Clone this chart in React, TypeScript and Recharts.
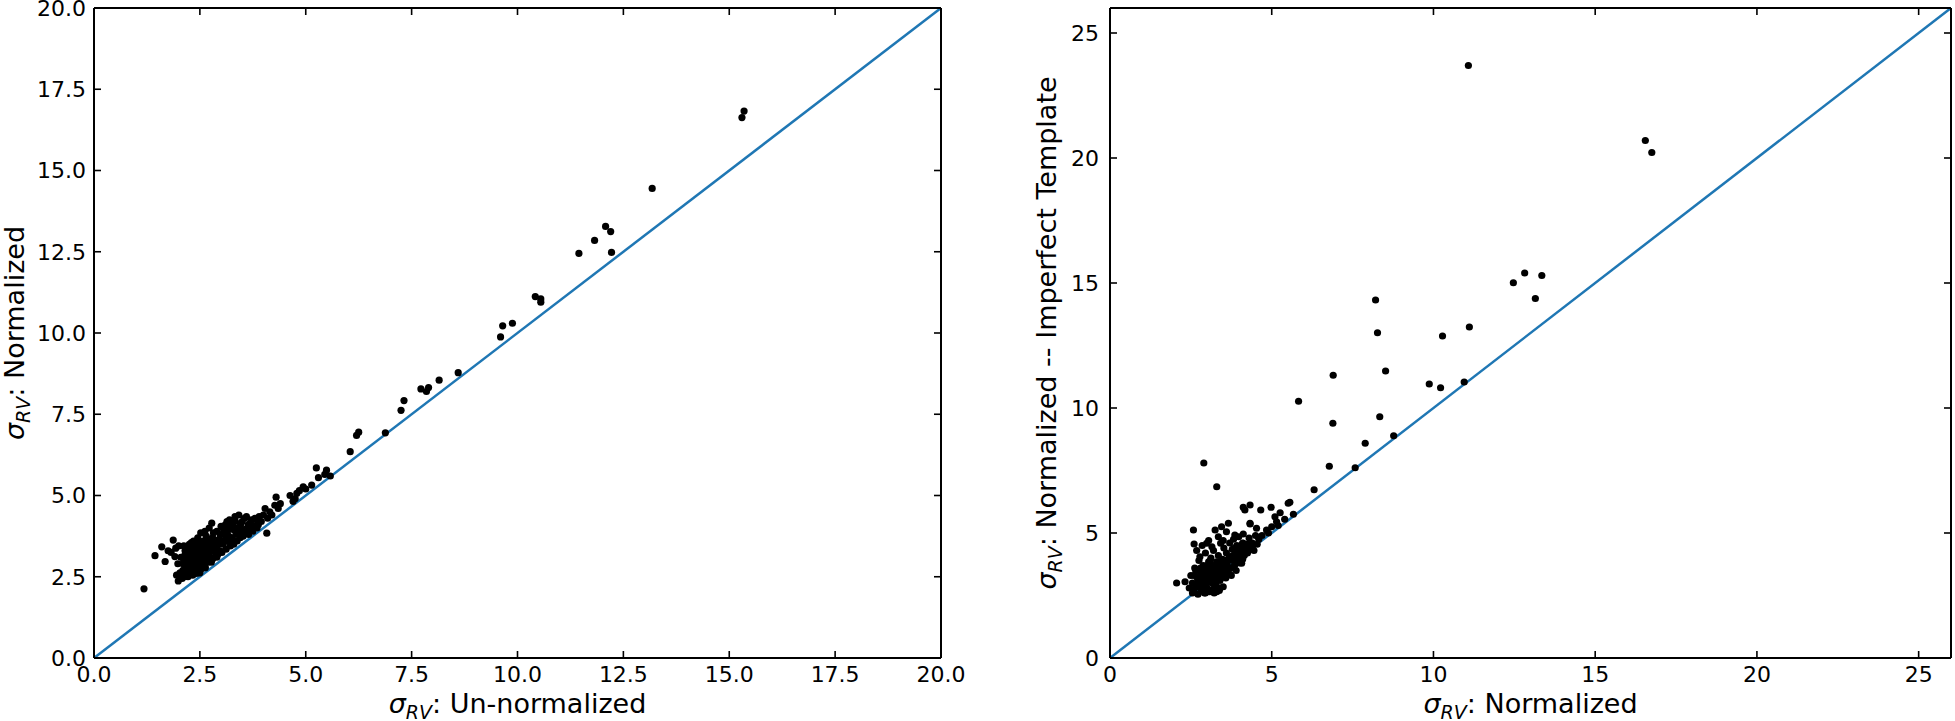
import React from 'react'
import { ScatterChart, Scatter, XAxis, YAxis, ReferenceLine, Label } from 'recharts'

// left panel: sigma_RV un-normalized (x) vs normalized (y)
const leftCluster: [number, number][] = [
  [1.18, 2.13], [1.44, 3.15], [1.6, 3.42], [1.68, 2.97], [1.75, 3.3], [1.87, 3.63], [1.91, 3.12],
  [1.95, 2.55], [1.99, 2.37], [2.0, 3.45], [1.82, 3.25], [2.03, 2.62], [1.93, 3.38],
  [2.08, 2.45], [2.1, 2.7], [2.12, 3.0], [2.15, 3.3], [2.18, 2.55], [2.2, 2.85], [2.22, 3.15],
  [2.25, 3.5], [2.27, 2.6], [2.3, 2.75], [2.3, 3.05], [2.32, 3.35], [2.35, 2.65], [2.37, 2.9],
  [2.4, 3.2], [2.42, 3.6], [2.44, 2.7], [2.45, 3.0], [2.47, 3.4], [2.5, 2.8], [2.5, 3.1],
  [2.52, 3.85], [2.55, 2.9], [2.55, 3.3], [2.58, 3.6], [2.6, 2.85], [2.6, 3.15], [2.62, 3.45],
  [2.65, 3.0], [2.65, 3.75], [2.68, 3.25], [2.7, 2.95], [2.7, 3.55], [2.72, 4.0], [2.75, 3.1],
  [2.75, 3.4], [2.78, 4.15], [2.8, 3.05], [2.8, 3.7], [2.82, 3.3], [2.85, 3.55], [2.87, 3.15],
  [2.9, 3.9], [2.9, 3.4], [2.93, 3.2], [2.95, 3.65], [2.98, 3.3], [3.0, 4.05],
  [2.15, 2.5], [2.2, 2.65], [2.25, 2.75], [2.28, 2.95], [2.33, 2.55], [2.38, 2.8], [2.4, 3.0],
  [2.46, 2.85], [2.5, 2.62], [2.52, 3.2], [2.56, 3.05], [2.6, 3.35], [2.63, 2.78], [2.67, 3.1],
  [2.73, 3.3], [2.77, 2.95], [2.35, 3.1], [2.2, 3.05], [2.28, 3.25], [2.42, 3.45], [2.58, 3.5],
  [2.1, 2.9], [2.14, 3.15], [2.18, 3.4], [2.22, 2.5], [2.26, 3.0], [2.3, 3.55], [2.34, 2.85],
  [2.38, 3.3], [2.42, 2.6], [2.46, 3.2], [2.5, 3.5], [2.54, 2.75], [2.58, 3.25], [2.62, 2.95],
  [2.66, 3.55], [2.7, 3.2], [2.74, 3.65], [2.78, 3.5], [2.82, 3.85], [2.86, 3.35], [2.9, 3.1],
  [2.94, 3.5], [2.98, 3.8], [2.05, 3.1], [1.98, 2.9], [2.12, 3.45], [2.45, 3.7], [2.35, 3.6],
  [2.62, 3.9],
  [3.02, 3.25], [3.05, 3.5], [3.08, 3.8], [3.1, 4.1], [3.12, 3.35], [3.15, 3.6], [3.18, 3.95],
  [3.2, 4.25], [3.22, 3.45], [3.25, 3.7], [3.28, 4.05], [3.3, 3.5], [3.33, 4.35], [3.35, 3.8],
  [3.38, 3.6], [3.4, 4.0], [3.42, 4.4], [3.45, 3.7], [3.48, 3.9], [3.5, 4.2], [3.52, 3.75],
  [3.55, 4.3], [3.58, 3.85], [3.6, 4.35], [3.62, 4.0], [3.65, 3.8], [3.68, 4.15], [3.7, 3.95],
  [3.72, 4.25], [3.75, 3.9], [3.78, 4.05], [3.8, 4.3], [3.84, 4.25], [3.85, 4.0], [3.88, 4.1],
  [3.9, 4.35], [3.95, 4.2], [4.0, 4.4], [4.04, 4.6], [4.08, 3.84], [4.1, 4.3], [4.15, 4.5],
  [4.2, 4.4], [4.27, 4.7], [4.3, 4.95], [4.35, 4.6], [4.4, 4.75],
  [3.02, 3.55], [3.06, 3.95], [3.1, 3.65], [3.14, 4.2], [3.18, 3.75], [3.22, 4.1], [3.26, 3.55],
  [3.3, 3.95], [3.34, 4.2], [3.38, 3.85], [3.46, 4.1], [3.54, 3.95], [3.64, 4.1],
  [4.63, 5.0], [4.7, 4.82], [4.75, 4.9], [4.79, 5.07], [4.85, 5.15], [4.94, 5.27], [5.0, 5.2],
  [5.14, 5.32], [5.25, 5.85], [5.3, 5.55], [5.45, 5.65], [5.49, 5.78], [5.58, 5.6],
]

const leftOutliers: [number, number][] = [
  [6.05, 6.35], [6.2, 6.85], [6.25, 6.95], [6.88, 6.93], [7.25, 7.62], [7.32, 7.92],
  [7.72, 8.28], [7.85, 8.2], [7.9, 8.32], [8.15, 8.55], [8.6, 8.78], [9.6, 9.88], [9.65, 10.22],
  [9.88, 10.3], [10.42, 11.12], [10.55, 11.05], [10.55, 10.95], [11.45, 12.45], [11.82, 12.85],
  [12.08, 13.28], [12.2, 13.12], [12.22, 12.48], [13.18, 14.45], [15.3, 16.63], [15.35, 16.83],
]

// right panel: normalized (x) vs normalized with imperfect template (y)
const rightCluster: [number, number][] = [
  [2.06, 3.0], [2.32, 3.05], [2.45, 2.8], [2.5, 3.3], [2.55, 2.6], [2.58, 5.12], [2.6, 4.56],
  [2.62, 3.6], [2.65, 2.9], [2.7, 3.2], [2.72, 2.55], [2.75, 3.9], [2.78, 4.05], [2.8, 3.4],
  [2.82, 2.75], [2.85, 3.0], [2.88, 3.7], [2.9, 3.3], [2.92, 2.6], [2.95, 4.2], [2.98, 3.5],
  [2.99, 4.59], [3.0, 2.8], [3.02, 3.1], [3.05, 3.85], [3.08, 2.65], [3.1, 3.4], [3.12, 4.0],
  [3.15, 3.0], [3.15, 3.65], [3.18, 2.75], [3.2, 4.3], [3.22, 3.25], [3.25, 5.12], [3.25, 3.5],
  [3.28, 2.9], [3.3, 3.85], [3.32, 3.15], [3.35, 4.1], [3.38, 2.7], [3.4, 3.6], [3.42, 4.59],
  [3.45, 5.25], [3.45, 3.3], [3.48, 3.95], [3.5, 2.85], [3.52, 4.4], [3.55, 3.5], [3.58, 3.2],
  [3.6, 4.2], [3.62, 3.75], [3.65, 3.4], [3.66, 5.39], [3.68, 4.0], [3.7, 4.6], [3.72, 3.6],
  [3.75, 3.3], [3.78, 4.35], [3.8, 3.9], [3.82, 4.75], [3.85, 3.7], [3.86, 4.92], [3.88, 4.2],
  [3.9, 3.5], [3.92, 4.5], [3.95, 4.0], [3.98, 4.85], [4.0, 3.8], [4.05, 4.3], [4.07, 3.79],
  [4.1, 4.6], [4.12, 4.59], [4.12, 4.96], [4.15, 4.1], [4.2, 4.45], [4.25, 4.2], [4.3, 4.8],
  [4.33, 5.39], [4.33, 5.36], [4.35, 4.4], [4.4, 4.6], [4.45, 4.3], [4.5, 4.9], [4.53, 5.19],
  [4.55, 4.55], [4.6, 4.75], [4.7, 4.9], [4.84, 5.12], [4.9, 5.0], [5.0, 5.25], [5.1, 5.65],
  [5.15, 5.45], [5.2, 5.3], [5.26, 5.81], [5.4, 5.55], [5.67, 5.75],
  [2.7, 2.85], [2.85, 3.15], [2.95, 2.95], [3.05, 3.3], [3.12, 3.55], [3.2, 3.1], [3.28, 3.45],
  [3.35, 3.3], [3.42, 3.7], [3.5, 3.6], [3.58, 3.9], [3.65, 3.55], [3.72, 3.95], [3.8, 4.1],
  [2.9, 3.55], [3.0, 3.7], [3.1, 3.9], [2.8, 3.6], [3.3, 2.65], [3.4, 2.8],
  [2.55, 3.0], [2.6, 3.3], [2.65, 3.5], [2.7, 3.0], [2.75, 3.25], [2.8, 2.9], [2.85, 3.45],
  [2.9, 2.75], [2.95, 3.2], [3.0, 3.4], [3.05, 3.05], [3.1, 3.2], [3.15, 3.45], [3.2, 3.7],
  [3.25, 3.0], [3.3, 3.3], [3.35, 3.6], [3.4, 3.1], [3.45, 3.5], [3.5, 3.85], [3.55, 3.25],
  [3.6, 3.55], [3.65, 3.9], [3.7, 3.35], [3.75, 4.05], [3.8, 3.6], [3.85, 4.4], [3.9, 3.8],
  [3.95, 4.3], [4.0, 4.1], [4.05, 4.5], [4.1, 3.95], [4.2, 4.2], [4.25, 4.55], [4.3, 4.35],
  [4.4, 4.45], [2.68, 4.3], [2.85, 4.5], [3.05, 4.7], [3.15, 4.45], [3.35, 4.85], [3.5, 4.7],
  [3.6, 5.05], [2.6, 2.75], [2.95, 2.6], [3.22, 2.6],
]

const rightOutliers: [number, number][] = [
  [2.9, 7.8], [3.3, 6.85], [4.12, 6.03], [4.17, 5.92], [4.33, 6.12], [4.66, 5.92], [4.98, 6.03],
  [5.51, 6.19], [5.56, 6.23], [5.83, 10.27], [6.31, 6.73], [6.78, 7.67], [6.89, 9.39],
  [6.9, 11.31], [7.58, 7.61], [7.89, 8.59], [8.21, 14.32], [8.27, 13.01], [8.34, 9.65],
  [8.52, 11.48], [8.77, 8.89], [9.87, 10.96], [10.22, 10.81], [10.28, 12.88], [10.95, 11.04],
  [11.08, 23.7], [11.11, 13.24], [12.47, 15.01], [12.82, 15.4], [13.15, 14.38], [13.35, 15.3],
  [16.55, 20.7], [16.75, 20.22],
]

const leftTicks = [0, 2.5, 5, 7.5, 10, 12.5, 15, 17.5, 20]
const rightTicks = [0, 5, 10, 15, 20, 25]

const FONT = 'DejaVu Sans, sans-serif'
const TICK_LEN = 7
const BLUE = '#1f77b4'
const TICK_FONT = 22
const LABEL_FONT = 27

const toPoints = (pairs: [number, number][]) => pairs.map(([x, y]) => ({ x, y }))

function makeTick(side: string, fmt?: (v: number) => string, pad = 8) {
  return (props: any) => {
    const { x, y, payload } = props
    const v = payload.value
    if (side === 'bottom') {
      return (
        <g>
          <line x1={x} y1={y} x2={x} y2={y - TICK_LEN} stroke="#000" strokeWidth={1.6} />
          {fmt && (
            <text x={x} y={y + 24} textAnchor="middle" fontSize={TICK_FONT} fontFamily={FONT} fill="#000">
              {fmt(v)}
            </text>
          )}
        </g>
      )
    }
    if (side === 'top') {
      return <line x1={x} y1={y} x2={x} y2={y + TICK_LEN} stroke="#000" strokeWidth={1.6} />
    }
    if (side === 'left') {
      return (
        <g>
          <line x1={x} y1={y} x2={x + TICK_LEN} y2={y} stroke="#000" strokeWidth={1.6} />
          {fmt && (
            <text x={x - pad} y={y} dy="0.36em" textAnchor="end" fontSize={TICK_FONT} fontFamily={FONT} fill="#000">
              {fmt(v)}
            </text>
          )}
        </g>
      )
    }
    return <line x1={x} y1={y} x2={x - TICK_LEN} y2={y} stroke="#000" strokeWidth={1.6} />
  }
}

function Sigma({ rest }: { rest: string }) {
  return (
    <>
      <tspan fontStyle="italic">σ</tspan>
      <tspan fontStyle="italic" fontSize={19} dy={6}>RV</tspan>
      <tspan dy={-6}>{rest}</tspan>
    </>
  )
}

const dot = (props: any) => <circle cx={props.cx} cy={props.cy} r={3.6} fill="#000" />
const nothing = () => <g />

const axisLine = { stroke: '#000', strokeWidth: 2 }

interface PanelProps {
  points: { x: number; y: number }[]
  max: number
  ticks: number[]
  fmt: (v: number) => string
  width: number
  yAxisWidth: number
  rightMargin: number
  yPad: number
  xLabel: string
  yLabel: string
  yLabelX: number
}

function Panel(p: PanelProps) {
  return (
    <ScatterChart
      width={p.width}
      height={721}
      margin={{ top: 7, right: p.rightMargin - 1, bottom: 0, left: 0 }}
    >
      <XAxis
        type="number"
        dataKey="x"
        domain={[0, p.max]}
        ticks={p.ticks}
        interval={0}
        height={63}
        tickSize={0}
        tickMargin={0}
        tickLine={false}
        axisLine={axisLine}
        tick={makeTick('bottom', p.fmt)}
        allowDataOverflow
      >
        <Label
          content={(lp: any) => {
            const vb = lp.viewBox
            return (
              <text x={vb.x + vb.width / 2} y={713} textAnchor="middle" fontSize={LABEL_FONT} fontFamily={FONT} fill="#000">
                <Sigma rest={p.xLabel} />
              </text>
            )
          }}
        />
      </XAxis>
      <XAxis
        xAxisId="top"
        orientation="top"
        type="number"
        dataKey="x"
        domain={[0, p.max]}
        ticks={p.ticks}
        interval={0}
        height={1}
        tickSize={0}
        tickMargin={0}
        tickLine={false}
        axisLine={axisLine}
        tick={makeTick('top')}
        allowDataOverflow
      />
      <YAxis
        type="number"
        dataKey="y"
        domain={[0, p.max]}
        ticks={p.ticks}
        interval={0}
        width={p.yAxisWidth}
        tickSize={0}
        tickMargin={0}
        tickLine={false}
        axisLine={axisLine}
        tick={makeTick('left', p.fmt, p.yPad)}
        allowDataOverflow
      >
        <Label
          content={() => (
            <text
              x={p.yLabelX}
              y={333}
              transform={`rotate(-90 ${p.yLabelX} 333)`}
              textAnchor="middle"
              fontSize={LABEL_FONT}
              fontFamily={FONT}
              fill="#000"
            >
              <Sigma rest={p.yLabel} />
            </text>
          )}
        />
      </YAxis>
      <YAxis
        yAxisId="right"
        orientation="right"
        type="number"
        dataKey="y"
        domain={[0, p.max]}
        ticks={p.ticks}
        interval={0}
        width={1}
        tickSize={0}
        tickMargin={0}
        tickLine={false}
        axisLine={axisLine}
        tick={makeTick('right')}
        allowDataOverflow
      />
      {/* invisible copy so the mirrored top/right axes have data bound to them */}
      <Scatter data={p.points} xAxisId="top" yAxisId="right" shape={nothing} isAnimationActive={false} />
      <Scatter data={p.points} shape={dot} isAnimationActive={false} />
      <ReferenceLine
        segment={[{ x: 0, y: 0 }, { x: p.max, y: p.max }]}
        stroke={BLUE}
        strokeWidth={2.5}
        ifOverflow="visible"
      />
    </ScatterChart>
  )
}

export default function App() {
  const leftPoints = toPoints([...leftCluster, ...leftOutliers])
  const rightPoints = toPoints([...rightCluster, ...rightOutliers])
  return (
    <div style={{ position: 'relative', width: 1955, height: 721, background: '#fff', overflow: 'hidden' }}>
      <style>{'body{margin:0} svg{overflow:visible}'}</style>
      <div style={{ position: 'absolute', left: 0, top: 0 }}>
        <Panel
          points={leftPoints}
          max={20}
          ticks={leftTicks}
          fmt={(v) => v.toFixed(1)}
          width={960}
          yAxisWidth={94}
          rightMargin={19}
          yPad={8}
          xLabel=": Un-normalized"
          yLabel=": Normalized"
          yLabelX={24}
        />
      </div>
      <div style={{ position: 'absolute', left: 1000, top: 0 }}>
        <Panel
          points={rightPoints}
          max={26}
          ticks={rightTicks}
          fmt={(v) => String(v)}
          width={955}
          yAxisWidth={110}
          rightMargin={4}
          yPad={11}
          xLabel=": Normalized"
          yLabel=": Normalized -- Imperfect Template"
          yLabelX={56}
        />
      </div>
    </div>
  )
}
